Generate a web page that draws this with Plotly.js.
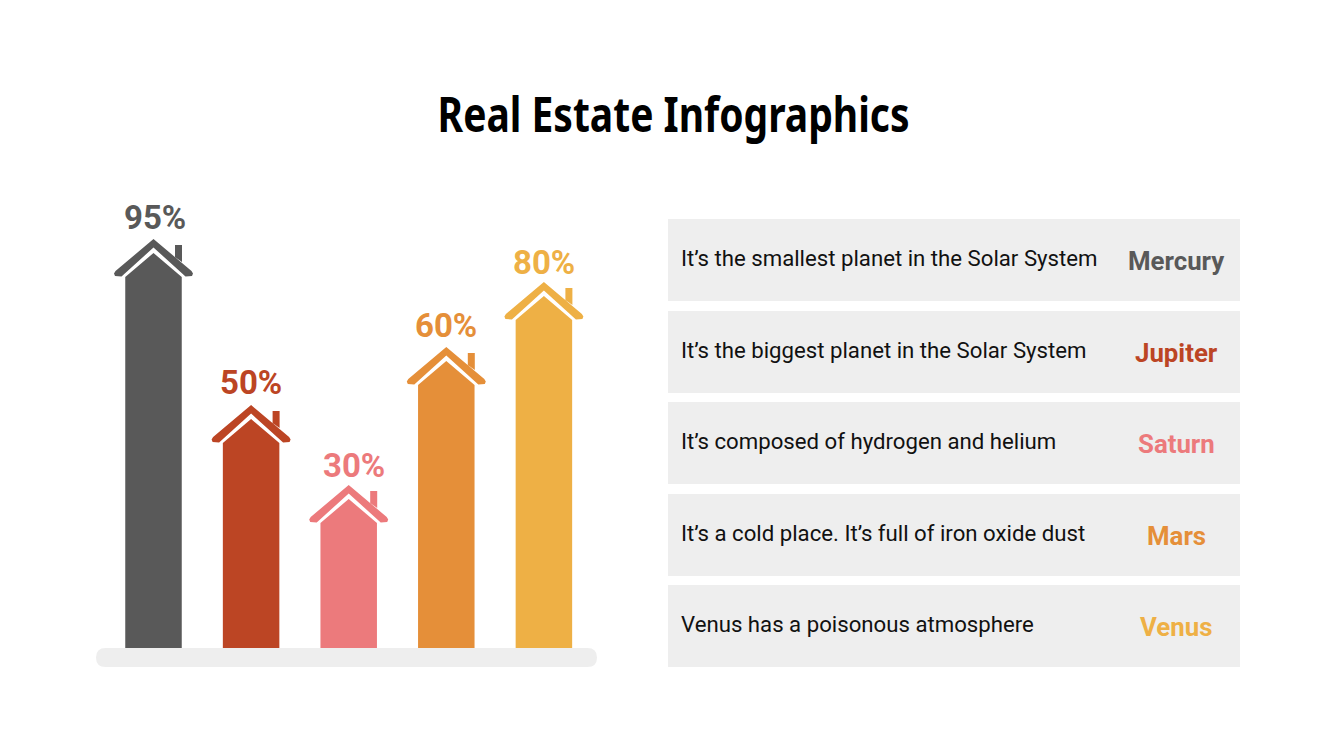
<!DOCTYPE html>
<html><head><meta charset="utf-8">
<script src="https://cdn.plot.ly/plotly-3.0.1.min.js"></script>
<style>html,body{margin:0;padding:0;background:#fff;overflow:hidden}#chart{width:1336px;height:752px}</style>
</head><body><div id="chart"></div>
<script>
const planets = ["Mercury","Jupiter","Saturn","Mars","Venus"];
const percentLabels = ["95%","50%","30%","60%","80%"];
const descriptions = [
  "It’s the smallest planet in the Solar System",
  "It’s the biggest planet in the Solar System",
  "It’s composed of hydrogen and helium",
  "It’s a cold place. It’s full of iron oxide dust",
  "Venus has a poisonous atmosphere"
];
// Drawn wall heights (the house heights are not proportional to their labels)
const wallHeights = [371, 205, 125, 263, 328];
const colors = ["#595959","#bc4524","#ec7a7c","#e58f39","#eeb045"];
const panelTops = [219, 311, 402, 494, 585];
const panelHeight = 82;
const planetCenters = [261.5, 353, 444, 536, 627];
const labelLift = [60, 61, 58, 60, 58];
const labelShift = [1.5, 0, 5, 0, 0.5];
const titleText = "Real Estate Infographics";

const W = 1336, H = 752;
const px = v => v / W, py = v => 1 - v / H;
const xUnit = 97.6;               // pixels per house slot
const indices = planets.map((_, i) => i);

const traces = [{
  type: "bar", x: indices, y: wallHeights, width: 56.5 / xUnit,
  marker: {color: colors, line: {width: 0}}, hoverinfo: "skip", showlegend: false
}];

// Roof, gable and chimney, offset from each wall's top
indices.forEach(i => {
  const h = wallHeights[i], a = h + 24;
  const dx = d => i + d / xUnit;
  const part = pts => pts.map(p => [dx(p[0]), p[1]]);
  const pieces = [
    part([[-28.25, h],[0, a],[28.25, h]]),
    part([[0, a+14],[38, a-18],[39.5, a-20.5],[38.5, a-23],[32, a-23.5],[0, a+5.5],
          [-32, a-23.5],[-38.5, a-23],[-39.5, a-20.5],[-38, a-18]]),
    part([[21.5, a+8],[28.5, a+8],[28.5, a-9],[21.5, a-4]])
  ];
  const xs = [], ys = [];
  pieces.forEach((pc, k) => {
    if (k) { xs.push(null); ys.push(null); }
    pc.forEach(p => { xs.push(p[0]); ys.push(p[1]); });
    xs.push(pc[0][0]); ys.push(pc[0][1]);
  });
  traces.push({type:"scatter", mode:"lines", x:xs, y:ys, fill:"toself", fillcolor:colors[i],
    line:{width:0, color:colors[i]}, hoverinfo:"skip", showlegend:false});
});

const shapes = [];
const r = 9.5, bx0 = 96, bx1 = 597, by0 = 648, by1 = 667;
shapes.push({type:"path", xref:"paper", yref:"paper", layer:"below", fillcolor:"#eeeeee", line:{width:0},
  path:`M ${px(bx0+r)} ${py(by0)} L ${px(bx1-r)} ${py(by0)} Q ${px(bx1)} ${py(by0)} ${px(bx1)} ${py(by0+r)} Q ${px(bx1)} ${py(by1)} ${px(bx1-r)} ${py(by1)} L ${px(bx0+r)} ${py(by1)} Q ${px(bx0)} ${py(by1)} ${px(bx0)} ${py(by0+r)} Q ${px(bx0)} ${py(by0)} ${px(bx0+r)} ${py(by0)} Z`});
panelTops.forEach(t => shapes.push({type:"rect", xref:"paper", yref:"paper", layer:"below",
  x0:px(668), x1:px(1240), y0:py(t), y1:py(t+panelHeight), fillcolor:"#eeeeee", line:{width:0}}));

const annotations = [{
  text:titleText, xref:"paper", yref:"paper", x:px(673), y:py(113),
  xanchor:"center", yanchor:"middle", showarrow:false,
  font:{family:"'Noto Sans',sans-serif", size:49, weight:700, color:"#000"}
}];
indices.forEach(i => {
  annotations.push({text:percentLabels[i], x:i, y:wallHeights[i]+labelLift[i], xshift:labelShift[i], xref:"x", yref:"y",
    xanchor:"center", yanchor:"middle", showarrow:false,
    font:{family:"Roboto, sans-serif", size:33, weight:700, color:colors[i]}});
  annotations.push({text:descriptions[i], xref:"paper", yref:"paper", x:px(678.5), y:py(panelTops[i]+39),
    xanchor:"left", yanchor:"middle", showarrow:false,
    font:{family:"Roboto, sans-serif", size:22.2, color:"#111"}});
  annotations.push({text:planets[i], xref:"paper", yref:"paper", x:px(1176), y:py(planetCenters[i]),
    xanchor:"center", yanchor:"middle", showarrow:false,
    font:{family:"Roboto, sans-serif", size:25.8, weight:700, color:colors[i]}});
});

Plotly.newPlot("chart", traces, {
  width:W, height:H, margin:{l:0,r:0,t:0,b:0,pad:0},
  paper_bgcolor:"#fff", plot_bgcolor:"rgba(0,0,0,0)", showlegend:false, hovermode:false,
  xaxis:{domain:[px(104.7), px(592.7)], range:[-0.5,4.5], visible:false, fixedrange:true},
  yaxis:{domain:[py(648), py(200)], range:[0,448], visible:false, fixedrange:true},
  shapes, annotations
}, {displayModeBar:false, staticPlot:true}).then(() => {
  // No condensed face is installed: squeeze the real title text to the reference's width
  document.querySelectorAll(".annotation-text").forEach(t => {
    if (t.textContent === titleText) {
      t.setAttribute("textLength", "472");
      t.setAttribute("lengthAdjust", "spacingAndGlyphs");
    }
  });
});
</script></body></html>
